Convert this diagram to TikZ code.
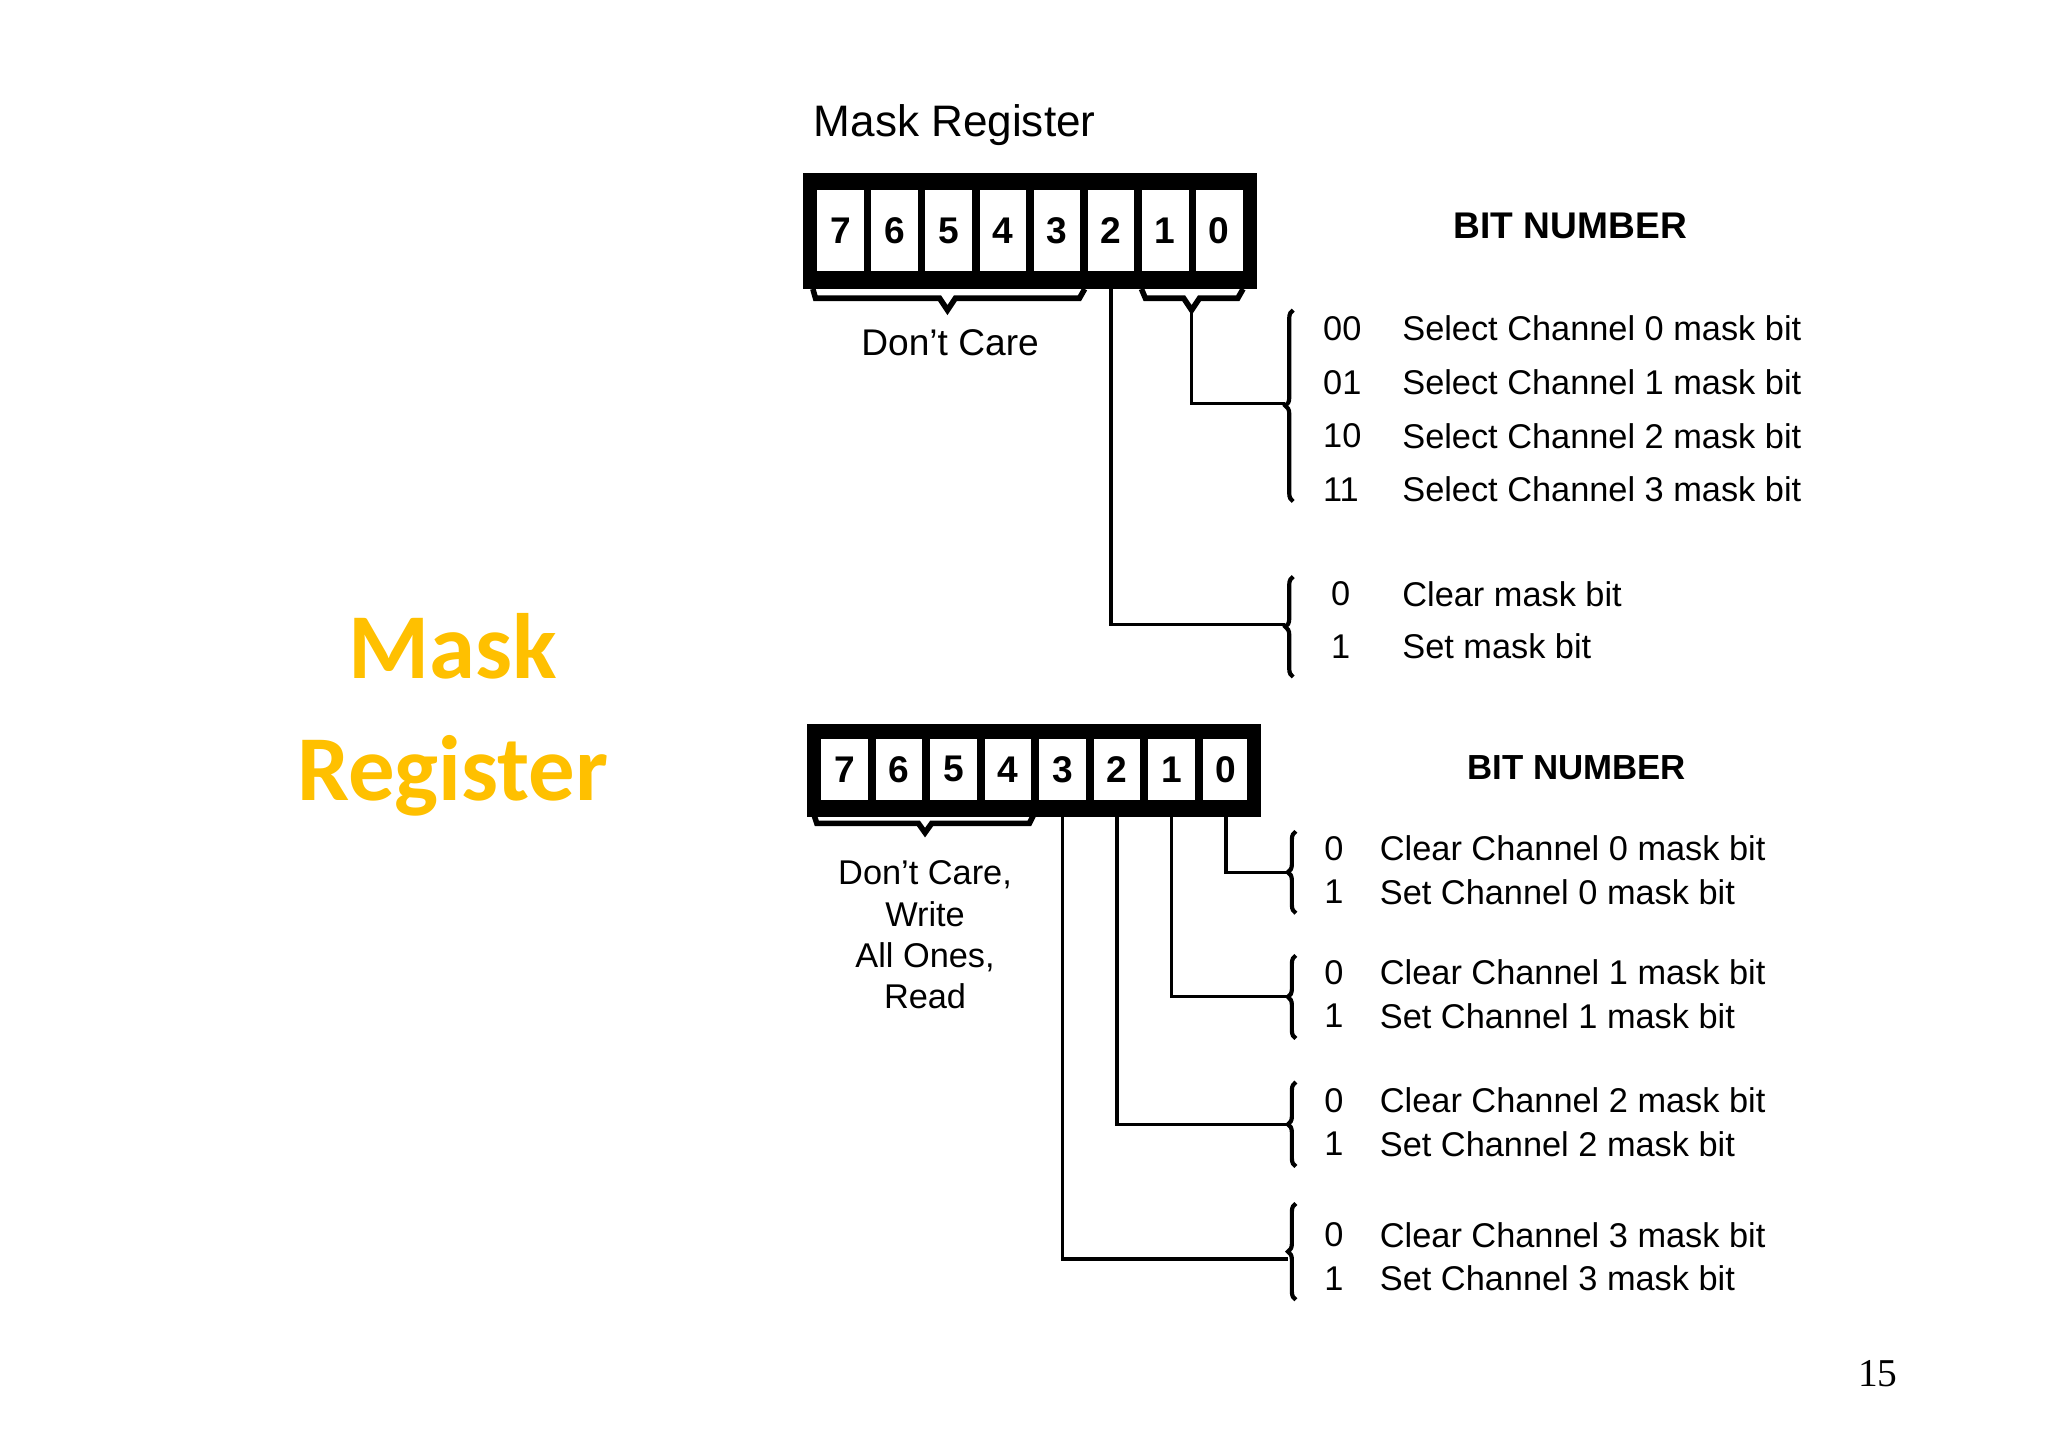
\documentclass[tikz,border=0pt]{standalone}
\usepackage{fontspec}
\setmainfont{Liberation Sans}
\newfontfamily\titlefont{Carlito}
\newfontfamily\pagefont{Liberation Serif}
\usetikzlibrary{decorations.pathreplacing}
\definecolor{gold}{HTML}{FFC000}
\tikzset{
  cell/.style={draw, line width=1.6pt, minimum width=0.41cm, minimum height=0.66cm, inner sep=0pt, font=\fontsize{8}{9}\selectfont\bfseries},
  reg/.style={draw, line width=3pt},
  lbl/.style={anchor=west, inner sep=0pt, font=\fontsize{7.4}{8}\selectfont},
  conn/.style={line width=0.7pt},
  cbrace/.style={line width=0.9pt, decorate, decoration={brace, amplitude=0.06cm}},
}
\begin{document}
\begin{tikzpicture}[x=0.01cm, y=-0.01cm]
\useasboundingbox (0,0) rectangle (1552,1097);
% left title
\node[font=\titlefont\fontsize{20}{24}\selectfont\bfseries, text=gold] (t1) at (343,490) {Mask};
\node[font=\titlefont\fontsize{20}{24}\selectfont\bfseries, text=gold] (t2) at (343,588) {Register};
\node[font=\pagefont\fontsize{8.5}{10}\selectfont] (pg) at (1423,1041) {15};

% ---------- top register ----------
\node[font=\fontsize{9.5}{11}\selectfont, anchor=west, inner sep=0pt] (title) at (616,95) {Mask Register};
\draw[reg] (614,136) rectangle (947,214);
\foreach \b [count=\i from 0] in {7,6,5,4,3,2,1,0}
  \node[cell, minimum height=0.67cm] (a\b) at (637+\i*41,175) {\b};
\node[font=\fontsize{8}{9}\selectfont\bfseries] (bn1) at (1190,171) {BIT NUMBER};
% don't care brace
\draw[line width=1.2pt] (616,219) -- (618,226) -- (712,226) -- (718,235) -- (724,226) -- (818,226) -- (822,219);
\node[font=\fontsize{8}{9}\selectfont] (dc1) at (720,260) {Don't Care};
\draw[line width=1.2pt] (865,219) -- (868,226) -- (897,226) -- (903,235) -- (909,226) -- (938,226) -- (942,219);
\coordinate (p10) at (903,235);
\draw[cbrace] (980,380) -- (980,235) coordinate[midway] (s1);
\draw[cbrace] (980,513) -- (980,437);
\coordinate (s2) at (974,473);
\draw[conn] (p10) |- (974,306);
\draw[conn] (a2.south) |- (s2);
\foreach \c/\t [count=\i from 0] in {00/0,01/1,10/2,11/3} {
  \node[lbl] (c\i) at (1002,249+\i*40.7) {\c};
  \node[lbl] (d\i) at (1062,249+\i*40.7) {Select Channel \t\ mask bit};
}
\node[lbl] (e0) at (1008,450) {0};
\node[lbl] (f0) at (1062,450) {Clear mask bit};
\node[lbl] (e1) at (1008,490) {1};
\node[lbl] (f1) at (1062,490) {Set mask bit};

% ---------- bottom register ----------
\draw[reg] (617,554) rectangle (950,614);
\foreach \b [count=\i from 0] in {7,6,5,4,3,2,1,0}
  \node[cell, minimum height=0.52cm] (b\b) at (640+\i*41.3,583) {\b};
\node[font=\fontsize{7.5}{9}\selectfont\bfseries] (bn2) at (1195,582) {BIT NUMBER};
\draw[line width=1.2pt] (617,618) -- (619,624) -- (696,624) -- (701,631) -- (706,624) -- (780,624) -- (783,618);
\node[font=\fontsize{7.4}{8.9}\selectfont, align=center, anchor=north] (dc2) at (701,640) {Don't Care,\\Write\\All Ones,\\Read};
\foreach \b/\ya/\yb/\ym in {0/630/692/661, 1/724/787/755, 2/820/884/852, 3/912/985/954} {
  \draw[cbrace] (982,\yb) -- (982,\ya);
  \coordinate (m\b) at (976,\ym);
  \draw[conn] (b\b.south) |- (m\b);
  \node[lbl] (z\b) at (1003,\ym-18) {0};
  \node[lbl] (zz\b) at (1045,\ym-18) {Clear Channel \b\ mask bit};
  \node[lbl] (o\b) at (1003,\ym+15) {1};
  \node[lbl] (oo\b) at (1045,\ym+15) {Set Channel \b\ mask bit};
}
\end{tikzpicture}
\end{document}
